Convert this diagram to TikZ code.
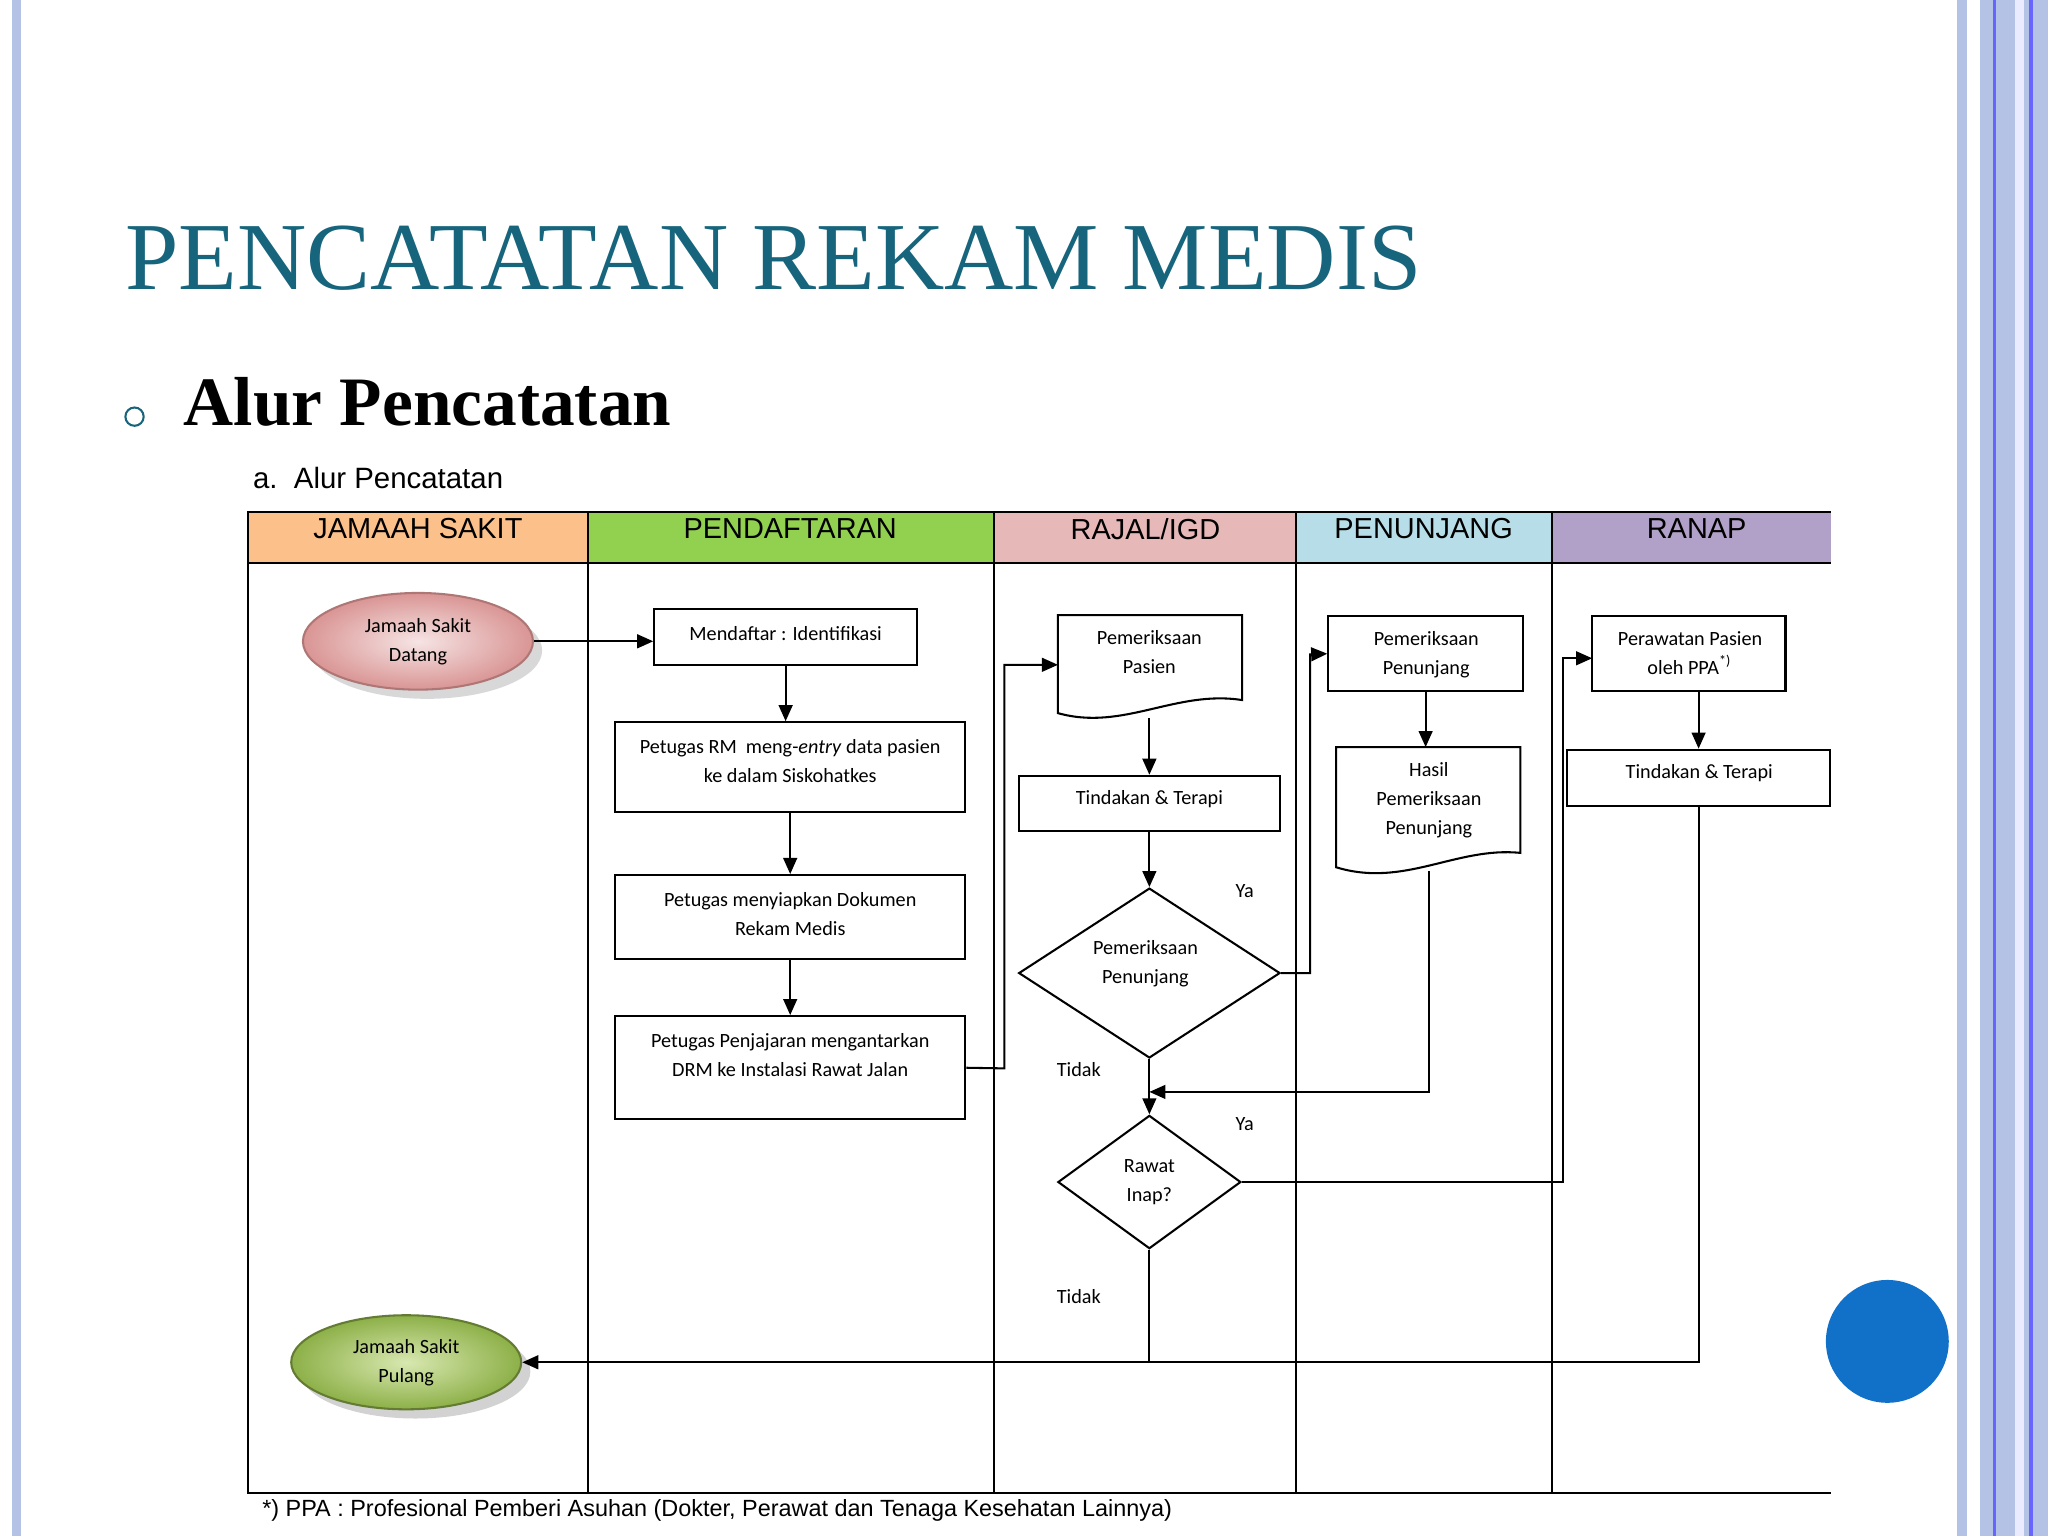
\documentclass[tikz,border=0pt]{standalone}
\usepackage{fontspec}
\setmainfont{Liberation Serif}
\newfontfamily\calfnt{Carlito}
\newfontfamily\ars{Liberation Sans}
\usetikzlibrary{shapes.geometric,arrows.meta,shadows}
\definecolor{teal}{HTML}{17657D}
\definecolor{stripe}{HTML}{B4C2E6}
\definecolor{hA}{HTML}{FCC08A}
\definecolor{hB}{HTML}{92D050}
\definecolor{hC}{HTML}{E6B9B8}
\definecolor{hD}{HTML}{B7DEE8}
\definecolor{hE}{HTML}{B1A0C7}
\definecolor{dot}{HTML}{1170C8}
\definecolor{pinkin}{HTML}{F6E4E4}
\definecolor{pinkout}{HTML}{D99594}
\definecolor{grnin}{HTML}{D8E8B0}
\definecolor{grnout}{HTML}{8DB048}
\begin{document}
\begin{tikzpicture}[x=0.01cm,y=-0.01cm,
  every path/.style={line width=0.45pt},
  box/.style={draw,line width=0.45pt,inner sep=0pt},
  lbl/.style={font=\calfnt\fontsize{4.4}{6.3}\selectfont,align=center,inner sep=0pt},
  hdr/.style={font=\ars\fontsize{6.3}{7}\selectfont,anchor=center},
  arr/.style={line width=0.45pt,-{Triangle[length=3.5pt,width=3pt]}}]
\useasboundingbox (0,0) rectangle (1568,1176);
\fill[white] (0,0) rectangle (1568,1176);
% borders
\fill[stripe] (9,0) rectangle (16,1176);
\fill[stripe] (1498,0) rectangle (1506,1176);
\fill[stripe] (1516,0) rectangle (1568,1176);
\draw[blue!60,thick] (1527,0) -- (1527,1176);
\draw[blue!60,thick] (1555,0) -- (1555,1176);
\fill[blue!8] (1543,0) rectangle (1550,1176);
% titles
\node[anchor=base west,inner sep=0,text=teal,font=\fontsize{20.9}{21}\selectfont] (title) at (95,222) {PENCATATAN REKAM MEDIS};
\node[anchor=base west,inner sep=0,font=\bfseries\fontsize{15.1}{16}\selectfont] (sub) at (140,326) {Alur Pencatatan};
\draw[teal] (103,319) circle (0.07cm);
\node[anchor=base west,inner sep=0,font=\ars\fontsize{6.4}{7}\selectfont] (a) at (193,374) {a.\ \ Alur Pencatatan};
% lanes
\fill[hA] (190,392) rectangle (450,431);
\fill[hB] (450,392) rectangle (761,431);
\fill[hC] (761,392) rectangle (992,431);
\fill[hD] (992,392) rectangle (1188,431);
\fill[hE] (1188,392) rectangle (1402,431);
\draw (1402,392) -- (190,392) -- (190,1143) -- (1402,1143);
\draw (190,431) -- (1402,431);
\foreach \x in {450,761,992,1188} \draw (\x,392) -- (\x,1143);
\node[hdr] (h1) at (320,405) {JAMAAH SAKIT};
\node[hdr] (h2) at (605,405) {PENDAFTARAN};
\node[hdr] (h3) at (877,405) {RAJAL/IGD};
\node[hdr] (h4) at (1090,405) {PENUNJANG};
\node[hdr] (h5) at (1299,405) {RANAP};
% nodes
\node[ellipse,minimum width=1.76cm,minimum height=0.74cm,draw=pinkout!80!black,inner color=pinkin,outer color=pinkout,drop shadow={opacity=0.3,shadow xshift=2pt,shadow yshift=-2pt},lbl,align=center] (start) at (320,491) {Jamaah Sakit\\Datang};
\node[box,minimum width=2.01cm,minimum height=0.43cm] (m1) at (601.5,487.5) {};
\node[lbl] at (601.5,485) {Mendaftar : Identifikasi};
\node[box,minimum width=2.68cm,minimum height=0.69cm] (m2) at (605,587.5) {};
\node[lbl] at (605,583) {Petugas RM\ \ meng-\textit{entry} data pasien\\ke dalam Siskohatkes};
\node[box,minimum width=2.68cm,minimum height=0.64cm] (m3) at (605,702) {};
\node[lbl] at (605,700) {Petugas menyiapkan Dokumen\\Rekam Medis};
\node[box,minimum width=2.68cm,minimum height=0.79cm] (m4) at (605,817.5) {};
\node[lbl] at (605,808) {Petugas Penjajaran mengantarkan\\DRM ke Instalasi Rawat Jalan};
% document Pemeriksaan Pasien
\draw (810,471) -- (951,471) -- (951,536) .. controls (900,528) and (860,560) .. (810,546) -- cycle;
\node[lbl] (pp) at (880,499) {Pemeriksaan\\Pasien};
\coordinate (ppw) at (810,509);
\coordinate (pps) at (880,550);
\node[box,minimum width=2.00cm,minimum height=0.42cm] (tt) at (880,615) {};
\node[lbl] at (880,612) {Tindakan \& Terapi};
\node[diamond,draw,minimum width=2.00cm,minimum height=1.30cm,inner sep=0,aspect=1.54] (d1) at (880,745) {};
\node[lbl] at (877,738) {Pemeriksaan\\Penunjang};
\node[diamond,draw,minimum width=1.40cm,minimum height=1.02cm,inner sep=0,aspect=1.37] (d2) at (880,905) {};
\node[lbl] at (880,905) {Rawat\\Inap?};
\node[box,minimum width=1.49cm,minimum height=0.57cm] (pn) at (1091.5,500.5) {};
\node[lbl] at (1092,501) {Pemeriksaan\\Penunjang};
\draw (1023,572) -- (1164,572) -- (1164,653) .. controls (1115,648) and (1075,680) .. (1023,664) -- cycle;
\node[lbl] (hs) at (1094,613) {Hasil\\Pemeriksaan\\Penunjang};
\node[box,minimum width=1.48cm,minimum height=0.57cm] (pr) at (1293,500.5) {};
\node[lbl] at (1294,500) {Perawatan Pasien\\oleh PPA\textsuperscript{*)}};
\node[box,minimum width=2.01cm,minimum height=0.43cm] (tr) at (1300.5,595.5) {};
\node[lbl] at (1301,592) {Tindakan \& Terapi};
\node[ellipse,minimum width=1.76cm,minimum height=0.72cm,draw=grnout!70!black,inner color=grnin,outer color=grnout,drop shadow={opacity=0.35,shadow xshift=2pt,shadow yshift=-2pt},lbl,align=center] (end) at (311,1043) {Jamaah Sakit\\Pulang};
\fill[dot] (1445,1027) circle (0.47cm);
% labels
\node[lbl] at (953,682) {Ya};
\node[lbl] at (826,819) {Tidak};
\node[lbl] at (953,861) {Ya};
\node[lbl] at (826,993) {Tidak};
% arrows
\draw[arr] (start.east) -- (m1.west |- start.east);
\draw[arr] (m1.south) -- (m1.south |- m2.north);
\draw[arr] (m2.south) -- (m3.north);
\draw[arr] (m3.south) -- (m4.north);
\draw[arr] (m4.east) -- (769,818) -- (769,509) -- (ppw);
\draw[arr] (pps) -- (tt.north);
\draw[arr] (tt.south) -- (d1.north);
\draw[arr] (d1.east) -- (1003,745) -- (1003,501) -- (pn.west);
\draw[arr] (pn.south) -- (1091.5,572);
\coordinate (j1) at (880,836);
\draw[arr] (1094,667) -- (1094,836) -- (j1);
\draw[arr] (d1.south) -- (d2.north);
\draw[arr] (d2.east) -- (1197,905) -- (1197,504) -- (1219,504);
\draw[arr] (tr.north |- pr.south) -- (tr.north);
\draw[arr] (tr.south) -- (1300.5,1043) -- (end.east);
\draw (d2.south) -- (880,1043);
% footnote
\node[anchor=base west,inner sep=0,font=\ars\fontsize{5.1}{6}\selectfont] (fn) at (200,1161) {*) PPA : Profesional Pemberi Asuhan (Dokter, Perawat dan Tenaga Kesehatan Lainnya)};
\end{tikzpicture}
\end{document}
